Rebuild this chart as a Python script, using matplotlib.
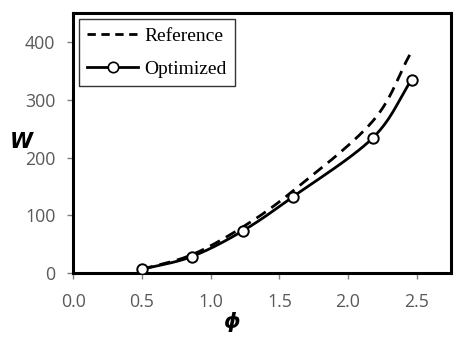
import numpy as np
import matplotlib
matplotlib.use("Agg")
import matplotlib.pyplot as plt
from matplotlib.lines import Line2D

# Data
phi_opt = [0.50, 0.862, 1.233, 1.597, 2.18, 2.464]
w_opt = [6.9, 28.9, 73.3, 132.0, 234.0, 335.0]
phi_ref = [0.50, 0.862, 1.233, 1.597, 2.18, 2.45]
w_ref = [7.0, 32.0, 80.0, 142.0, 263.0, 378.0]
xticks = [0.0, 0.5, 1.0, 1.5, 2.0, 2.5]
yticks = [0, 100, 200, 300, 400]


def smooth(x, y, n=30):
    """Catmull-Rom rendering of a line through the given points (Excel-like smoothing)."""
    x = np.asarray(x, float)
    y = np.asarray(y, float)
    P = np.column_stack([x, y])
    P = np.vstack([P[0] - (P[1] - P[0]), P, P[-1] + (P[-1] - P[-2])])
    out = []
    t = np.linspace(0, 1, n)
    for i in range(1, len(P) - 2):
        p0, p1, p2, p3 = P[i - 1], P[i], P[i + 1], P[i + 2]
        m1 = (p2 - p0) / 2.0
        m2 = (p3 - p1) / 2.0
        h00 = 2 * t**3 - 3 * t**2 + 1
        h10 = t**3 - 2 * t**2 + t
        h01 = -2 * t**3 + 3 * t**2
        h11 = t**3 - t**2
        seg = (h00[:, None] * p1 + h10[:, None] * m1 + h01[:, None] * p2 + h11[:, None] * m2)
        out.append(seg if i == 1 else seg[1:])
    S = np.vstack(out)
    return S[:, 0], S[:, 1]


fig = plt.figure(figsize=(4.74, 3.45), dpi=100)
ax = fig.add_axes([0.1547, 0.2078, 0.9515 - 0.1547, 0.9623 - 0.2078])

sx, sy = smooth(phi_ref, w_ref)
ax.plot(sx, sy, color="black", lw=2.0, ls=(0, (4, 2.5)), zorder=2)
ox, oy = smooth(phi_opt, w_opt)
ax.plot(ox, oy, color="black", lw=2.0, zorder=3)
ax.plot(phi_opt, w_opt, ls="none", marker="o", ms=7.5, mfc="white", mec="black", mew=1.4, zorder=4)

ax.set_xlim(0, 2.75)
ax.set_ylim(0, 450)
ax.set_xticks(xticks)
ax.set_xticklabels([f"{v:.1f}" for v in xticks])
ax.set_yticks(yticks)
ax.set_yticklabels([str(v) for v in yticks])

for s in ax.spines.values():
    s.set_linewidth(2.2)
    s.set_color("black")

ax.tick_params(axis="both", direction="out", length=4.5, width=1.0, color="#808080",
               labelsize=12.8, labelcolor="#595959")
ax.tick_params(axis="x", pad=9.5)
ax.tick_params(axis="y", pad=8.5)
for lab in ax.get_xticklabels() + ax.get_yticklabels():
    lab.set_family("Open Sans")

ax.set_xlabel("\u03d5", fontsize=15, fontweight="bold", style="italic", family="DejaVu Sans")
ax.xaxis.label.set_verticalalignment("center")
ax.xaxis.set_label_coords(0.42, -0.187)
ax.set_ylabel("W", fontsize=15, fontweight="bold", style="italic", family="DejaVu Sans",
              rotation=0, va="center", ha="center")
ax.yaxis.set_label_coords(-0.139, 0.505)

handles = [
    Line2D([], [], color="black", lw=2.0, ls=(0, (3, 2))),
    Line2D([], [], color="black", lw=2.0, marker="o", ms=7.5, mfc="white", mec="black", mew=1.2),
]
leg = ax.legend(handles, ["Reference", "Optimized"], loc="upper left",
                prop={"family": "Liberation Serif", "size": 14},
                frameon=True, fancybox=False, edgecolor="black", borderaxespad=0.3,
                handlelength=2.6, handletextpad=0.35, borderpad=0.42, labelspacing=0.8)
leg.get_frame().set_linewidth(1.0)

fig.savefig("out.png", dpi=100)
